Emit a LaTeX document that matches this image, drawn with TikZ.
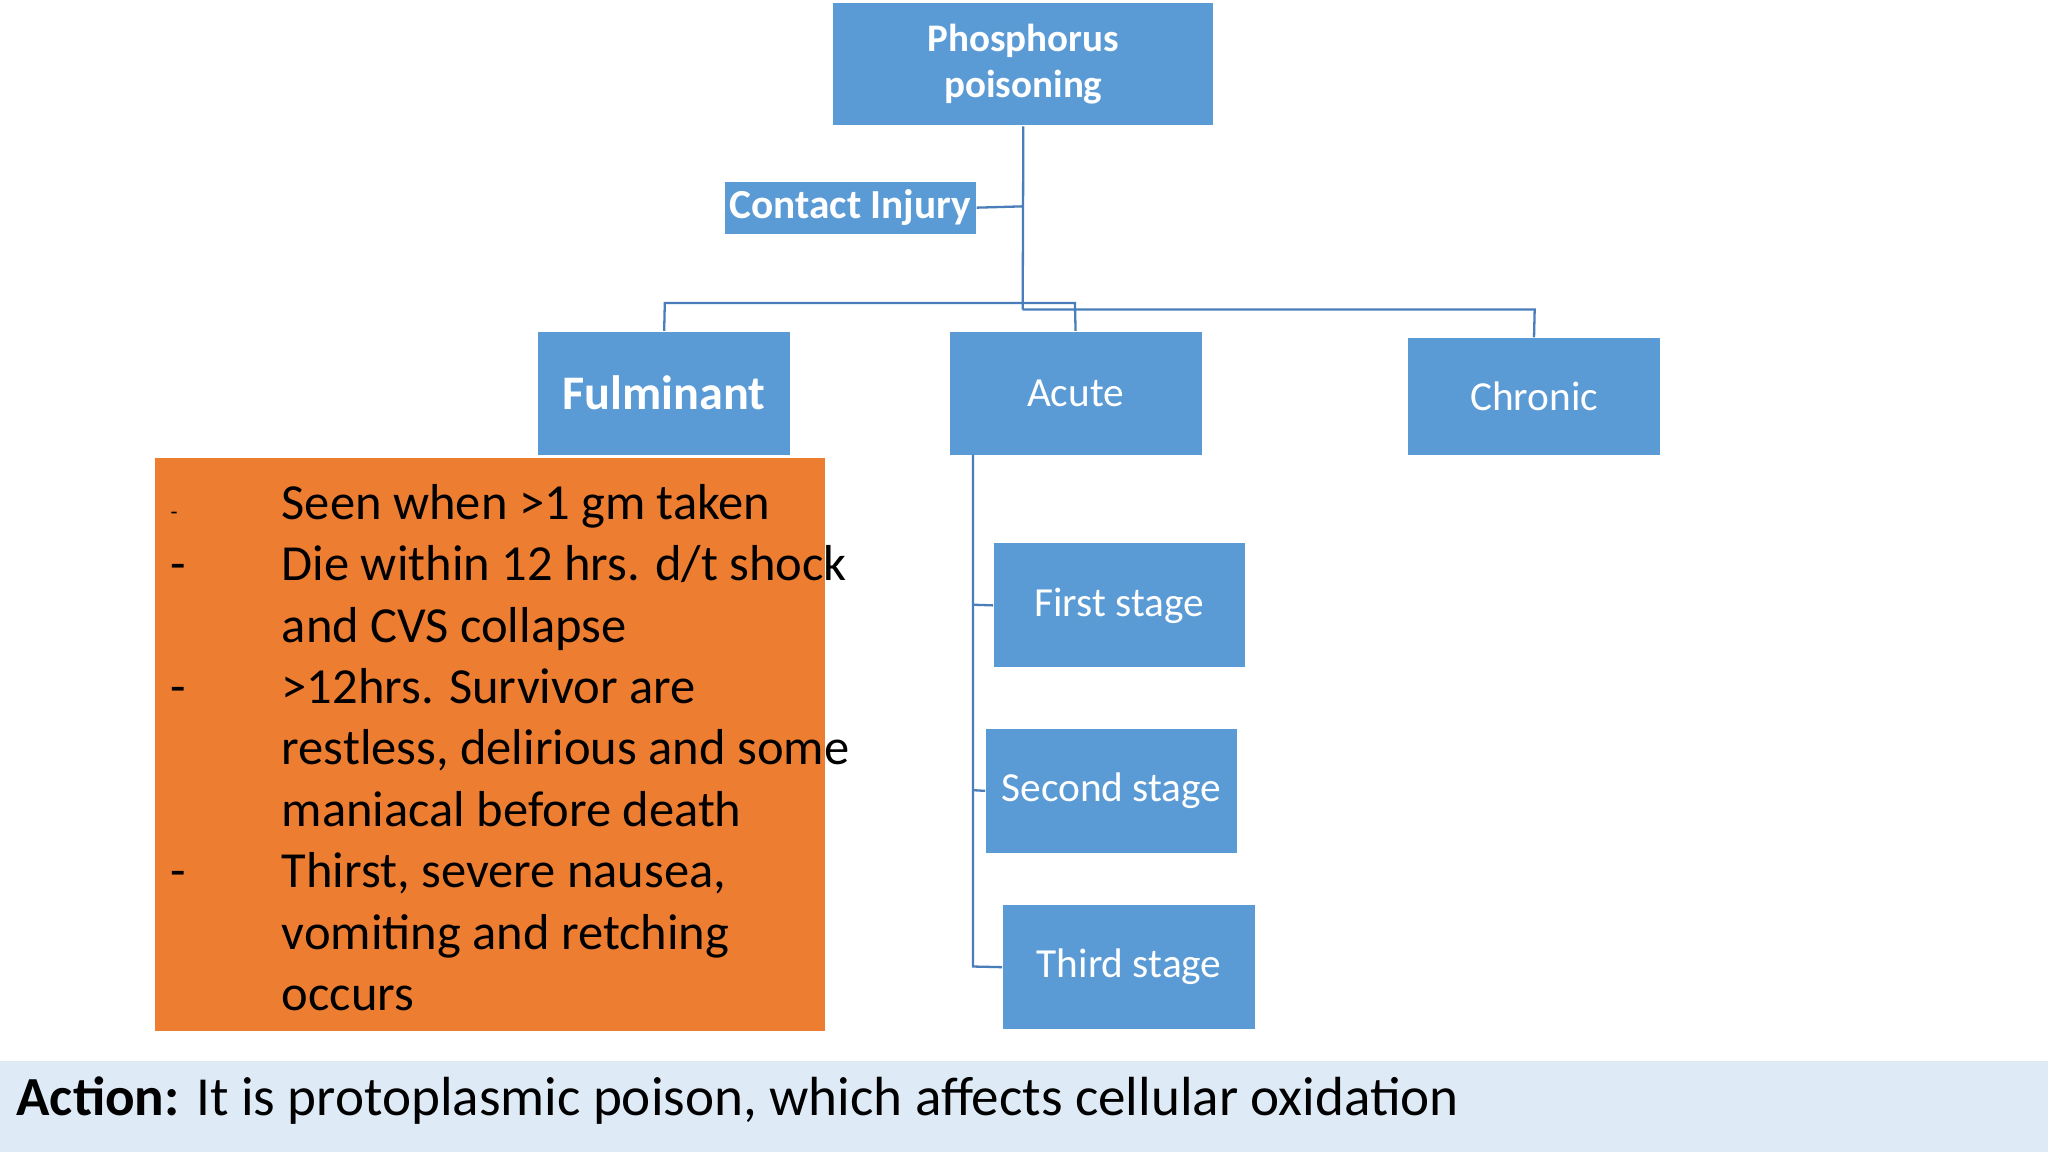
\documentclass[tikz,border=0pt]{standalone}
\usepackage{fontspec}
\setmainfont{Carlito}
\begin{document}
\begin{tikzpicture}[x=0.01cm,y=-0.01cm,
 box/.style={fill=blueb,draw=none,text=white,inner sep=0},
 ln/.style={draw=lineb,line width=0.5pt}]
\definecolor{blueb}{HTML}{5B9BD5}
\definecolor{lineb}{HTML}{4A7EBB}
\definecolor{orng}{HTML}{ED7D31}
\definecolor{band}{HTML}{DEEAF6}
\useasboundingbox (0,0) rectangle (1568,882);
\fill[white] (0,0) rectangle (1568,882);
\fill[band] (0,812) rectangle (1568,882);
\node[box,minimum width=291*0.01cm,minimum height=94*0.01cm,align=center,font=\fontsize{8.5}{10}\selectfont\bfseries] (p) at (783.5,49) {Phosphorus\\poisoning};
\node[box,minimum width=192*0.01cm,minimum height=40*0.01cm,font=\fontsize{9}{11}\selectfont\bfseries] (c) at (651,159) {Contact Injury};
\node[box,minimum width=193*0.01cm,minimum height=94*0.01cm,font=\fontsize{10.5}{12}\selectfont\bfseries] (f) at (508.5,301) {Fulminant};
\node[box,minimum width=193*0.01cm,minimum height=94*0.01cm,font=\fontsize{9}{11}\selectfont] (a) at (823.5,301) {Acute};
\node[box,minimum width=193*0.01cm,minimum height=89*0.01cm,font=\fontsize{9}{11}\selectfont] (ch) at (1174.5,303.5) {Chronic};
\node[box,minimum width=192*0.01cm,minimum height=95*0.01cm,font=\fontsize{9}{11}\selectfont] (s1) at (857,463.5) {First stage};
\node[box,minimum width=192*0.01cm,minimum height=95*0.01cm,font=\fontsize{9}{11}\selectfont] (s2) at (851,605.5) {Second stage};
\node[box,minimum width=193*0.01cm,minimum height=95*0.01cm,font=\fontsize{9}{11}\selectfont] (s3) at (864.5,740.5) {Third stage};
\fill[orng] (119,351) rectangle (632,789);
\node[anchor=north west,inner sep=0,font=\fontsize{11}{13.37}\selectfont,align=left] (o) at (130,364) {%
\begin{tabular}{@{}p{0.85cm}@{}l@{}}
{\tiny -} & Seen when >1 gm taken\\
- & Die within 12 hrs. d/t shock\\
 & and CVS collapse\\
- & >12hrs. Survivor are\\
 & restless, delirious and some\\
 & maniacal before death\\
- & Thirst, severe nausea,\\
 & vomiting and retching\\
 & occurs
\end{tabular}};
\node[anchor=west,inner sep=0,font=\fontsize{12}{14}\selectfont] (act) at (12,843) {\textbf{Action:} It is protoplasmic poison, which affects cellular oxidation};
\draw[ln] (p.south) -- (783,237);
\draw[ln] (c.east) -- (783,158);
\draw[ln] (f.north) -- (509,232) -- (823,232) -- (a.north);
\draw[ln] (783,237) -- (1175,237) -- (ch.north);
\draw[ln] (745,348) -- (745,740) -- (s3.west);
\draw[ln] (745,463) -- (s1.west);
\draw[ln] (745,605) -- (s2.west);
\end{tikzpicture}
\end{document}
